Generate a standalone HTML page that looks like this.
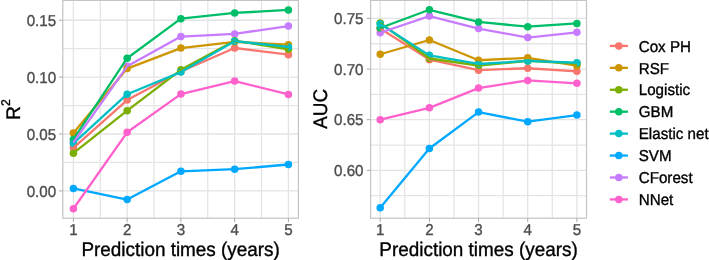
<!DOCTYPE html>
<html><head><meta charset="utf-8"><style>
html,body{margin:0;padding:0;background:#fff;}
svg{display:block;will-change:transform;text-rendering:geometricPrecision;font-family:"Liberation Sans", sans-serif;}
</style></head><body>
<svg width="709" height="260" viewBox="0 0 709 260">
<rect width="709" height="260" fill="#fff"/>
<line x1="100.28" y1="0.4" x2="100.28" y2="218.2" stroke="#E5E5E5" stroke-width="1.3"/>
<line x1="154.02" y1="0.4" x2="154.02" y2="218.2" stroke="#E5E5E5" stroke-width="1.3"/>
<line x1="207.77" y1="0.4" x2="207.77" y2="218.2" stroke="#E5E5E5" stroke-width="1.3"/>
<line x1="261.52" y1="0.4" x2="261.52" y2="218.2" stroke="#E5E5E5" stroke-width="1.3"/>
<line x1="62.8" y1="162.46" x2="298.4" y2="162.46" stroke="#E5E5E5" stroke-width="1.3"/>
<line x1="62.8" y1="105.57" x2="298.4" y2="105.57" stroke="#E5E5E5" stroke-width="1.3"/>
<line x1="62.8" y1="48.68" x2="298.4" y2="48.68" stroke="#E5E5E5" stroke-width="1.3"/>
<line x1="73.4" y1="0.4" x2="73.4" y2="218.2" stroke="#E3E3E3" stroke-width="1.3"/>
<line x1="127.15" y1="0.4" x2="127.15" y2="218.2" stroke="#E3E3E3" stroke-width="1.3"/>
<line x1="180.9" y1="0.4" x2="180.9" y2="218.2" stroke="#E3E3E3" stroke-width="1.3"/>
<line x1="234.65" y1="0.4" x2="234.65" y2="218.2" stroke="#E3E3E3" stroke-width="1.3"/>
<line x1="288.4" y1="0.4" x2="288.4" y2="218.2" stroke="#E3E3E3" stroke-width="1.3"/>
<line x1="62.8" y1="190.9" x2="298.4" y2="190.9" stroke="#E3E3E3" stroke-width="1.3"/>
<line x1="62.8" y1="134.01" x2="298.4" y2="134.01" stroke="#E3E3E3" stroke-width="1.3"/>
<line x1="62.8" y1="77.12" x2="298.4" y2="77.12" stroke="#E3E3E3" stroke-width="1.3"/>
<line x1="62.8" y1="20.23" x2="298.4" y2="20.23" stroke="#E3E3E3" stroke-width="1.3"/>
<circle cx="73.4" cy="142.54" r="3.75" fill="#C77CFF"/>
<circle cx="127.15" cy="66.31" r="3.75" fill="#C77CFF"/>
<circle cx="180.9" cy="36.61" r="3.75" fill="#C77CFF"/>
<circle cx="234.65" cy="33.88" r="3.75" fill="#C77CFF"/>
<circle cx="288.4" cy="26.03" r="3.75" fill="#C77CFF"/>
<circle cx="73.4" cy="147.78" r="3.75" fill="#F8766D"/>
<circle cx="127.15" cy="100.1" r="3.75" fill="#F8766D"/>
<circle cx="180.9" cy="71.43" r="3.75" fill="#F8766D"/>
<circle cx="234.65" cy="47.99" r="3.75" fill="#F8766D"/>
<circle cx="288.4" cy="54.71" r="3.75" fill="#F8766D"/>
<circle cx="73.4" cy="133.1" r="3.75" fill="#CD9600"/>
<circle cx="127.15" cy="68.59" r="3.75" fill="#CD9600"/>
<circle cx="180.9" cy="48.11" r="3.75" fill="#CD9600"/>
<circle cx="234.65" cy="41.85" r="3.75" fill="#CD9600"/>
<circle cx="288.4" cy="44.69" r="3.75" fill="#CD9600"/>
<circle cx="73.4" cy="153.13" r="3.75" fill="#7CAE00"/>
<circle cx="127.15" cy="110.69" r="3.75" fill="#7CAE00"/>
<circle cx="180.9" cy="69.84" r="3.75" fill="#7CAE00"/>
<circle cx="234.65" cy="40.71" r="3.75" fill="#7CAE00"/>
<circle cx="288.4" cy="49.24" r="3.75" fill="#7CAE00"/>
<circle cx="73.4" cy="139.47" r="3.75" fill="#00BE67"/>
<circle cx="127.15" cy="58.23" r="3.75" fill="#00BE67"/>
<circle cx="180.9" cy="18.64" r="3.75" fill="#00BE67"/>
<circle cx="234.65" cy="12.95" r="3.75" fill="#00BE67"/>
<circle cx="288.4" cy="9.88" r="3.75" fill="#00BE67"/>
<circle cx="73.4" cy="143.45" r="3.75" fill="#00BFC4"/>
<circle cx="127.15" cy="94.19" r="3.75" fill="#00BFC4"/>
<circle cx="180.9" cy="72.11" r="3.75" fill="#00BFC4"/>
<circle cx="234.65" cy="41.17" r="3.75" fill="#00BFC4"/>
<circle cx="288.4" cy="46.97" r="3.75" fill="#00BFC4"/>
<circle cx="73.4" cy="188.4" r="3.75" fill="#00A9FF"/>
<circle cx="127.15" cy="199.55" r="3.75" fill="#00A9FF"/>
<circle cx="180.9" cy="171.33" r="3.75" fill="#00A9FF"/>
<circle cx="234.65" cy="169.17" r="3.75" fill="#00A9FF"/>
<circle cx="288.4" cy="164.5" r="3.75" fill="#00A9FF"/>
<circle cx="73.4" cy="208.76" r="3.75" fill="#FF61CC"/>
<circle cx="127.15" cy="132.3" r="3.75" fill="#FF61CC"/>
<circle cx="180.9" cy="94.07" r="3.75" fill="#FF61CC"/>
<circle cx="234.65" cy="81.1" r="3.75" fill="#FF61CC"/>
<circle cx="288.4" cy="94.41" r="3.75" fill="#FF61CC"/>
<polyline points="73.4,147.78 127.15,100.1 180.9,71.43 234.65,47.99 288.4,54.71" fill="none" stroke="#F8766D" stroke-width="2.3" stroke-linejoin="round" stroke-linecap="butt"/>
<polyline points="73.4,133.1 127.15,68.59 180.9,48.11 234.65,41.85 288.4,44.69" fill="none" stroke="#CD9600" stroke-width="2.3" stroke-linejoin="round" stroke-linecap="butt"/>
<polyline points="73.4,153.13 127.15,110.69 180.9,69.84 234.65,40.71 288.4,49.24" fill="none" stroke="#7CAE00" stroke-width="2.3" stroke-linejoin="round" stroke-linecap="butt"/>
<polyline points="73.4,139.47 127.15,58.23 180.9,18.64 234.65,12.95 288.4,9.88" fill="none" stroke="#00BE67" stroke-width="2.3" stroke-linejoin="round" stroke-linecap="butt"/>
<polyline points="73.4,143.45 127.15,94.19 180.9,72.11 234.65,41.17 288.4,46.97" fill="none" stroke="#00BFC4" stroke-width="2.3" stroke-linejoin="round" stroke-linecap="butt"/>
<polyline points="73.4,188.4 127.15,199.55 180.9,171.33 234.65,169.17 288.4,164.5" fill="none" stroke="#00A9FF" stroke-width="2.3" stroke-linejoin="round" stroke-linecap="butt"/>
<polyline points="73.4,142.54 127.15,66.31 180.9,36.61 234.65,33.88 288.4,26.03" fill="none" stroke="#C77CFF" stroke-width="2.3" stroke-linejoin="round" stroke-linecap="butt"/>
<polyline points="73.4,208.76 127.15,132.3 180.9,94.07 234.65,81.1 288.4,94.41" fill="none" stroke="#FF61CC" stroke-width="2.3" stroke-linejoin="round" stroke-linecap="butt"/>
<rect x="62.8" y="0.4" width="235.6" height="217.8" fill="none" stroke="#C4C4C4" stroke-width="1.2"/>
<line x1="59" y1="190.9" x2="62.8" y2="190.9" stroke="#A8A8A8" stroke-width="1.0"/>
<line x1="59" y1="134.01" x2="62.8" y2="134.01" stroke="#A8A8A8" stroke-width="1.0"/>
<line x1="59" y1="77.12" x2="62.8" y2="77.12" stroke="#A8A8A8" stroke-width="1.0"/>
<line x1="59" y1="20.23" x2="62.8" y2="20.23" stroke="#A8A8A8" stroke-width="1.0"/>
<line x1="73.4" y1="218.2" x2="73.4" y2="222" stroke="#A8A8A8" stroke-width="1.0"/>
<line x1="127.15" y1="218.2" x2="127.15" y2="222" stroke="#A8A8A8" stroke-width="1.0"/>
<line x1="180.9" y1="218.2" x2="180.9" y2="222" stroke="#A8A8A8" stroke-width="1.0"/>
<line x1="234.65" y1="218.2" x2="234.65" y2="222" stroke="#A8A8A8" stroke-width="1.0"/>
<line x1="288.4" y1="218.2" x2="288.4" y2="222" stroke="#A8A8A8" stroke-width="1.0"/>
<text transform="translate(56.1,196.5) scale(1,1.04)" text-anchor="end" font-size="15.15" fill="#4D4D4D" stroke="#4D4D4D" stroke-width="0.35">0.00</text>
<text transform="translate(56.1,139.61) scale(1,1.04)" text-anchor="end" font-size="15.15" fill="#4D4D4D" stroke="#4D4D4D" stroke-width="0.35">0.05</text>
<text transform="translate(56.1,82.72) scale(1,1.04)" text-anchor="end" font-size="15.15" fill="#4D4D4D" stroke="#4D4D4D" stroke-width="0.35">0.10</text>
<text transform="translate(56.1,25.83) scale(1,1.04)" text-anchor="end" font-size="15.15" fill="#4D4D4D" stroke="#4D4D4D" stroke-width="0.35">0.15</text>
<text transform="translate(73.4,235.45) scale(1,1.04)" text-anchor="middle" font-size="15.15" fill="#4D4D4D" stroke="#4D4D4D" stroke-width="0.35">1</text>
<text transform="translate(127.15,235.45) scale(1,1.04)" text-anchor="middle" font-size="15.15" fill="#4D4D4D" stroke="#4D4D4D" stroke-width="0.35">2</text>
<text transform="translate(180.9,235.45) scale(1,1.04)" text-anchor="middle" font-size="15.15" fill="#4D4D4D" stroke="#4D4D4D" stroke-width="0.35">3</text>
<text transform="translate(234.65,235.45) scale(1,1.04)" text-anchor="middle" font-size="15.15" fill="#4D4D4D" stroke="#4D4D4D" stroke-width="0.35">4</text>
<text transform="translate(288.4,235.45) scale(1,1.04)" text-anchor="middle" font-size="15.15" fill="#4D4D4D" stroke="#4D4D4D" stroke-width="0.35">5</text>
<text transform="translate(180.6,255.6) scale(1,1.04)" text-anchor="middle" font-size="18.9" fill="#000" stroke="#000" stroke-width="0.35">Prediction times (years)</text>
<line x1="404.79" y1="0.4" x2="404.79" y2="218.2" stroke="#E5E5E5" stroke-width="1.3"/>
<line x1="453.96" y1="0.4" x2="453.96" y2="218.2" stroke="#E5E5E5" stroke-width="1.3"/>
<line x1="503.14" y1="0.4" x2="503.14" y2="218.2" stroke="#E5E5E5" stroke-width="1.3"/>
<line x1="552.31" y1="0.4" x2="552.31" y2="218.2" stroke="#E5E5E5" stroke-width="1.3"/>
<line x1="370.6" y1="195.68" x2="586.5" y2="195.68" stroke="#E5E5E5" stroke-width="1.3"/>
<line x1="370.6" y1="145.03" x2="586.5" y2="145.03" stroke="#E5E5E5" stroke-width="1.3"/>
<line x1="370.6" y1="94.37" x2="586.5" y2="94.37" stroke="#E5E5E5" stroke-width="1.3"/>
<line x1="370.6" y1="43.73" x2="586.5" y2="43.73" stroke="#E5E5E5" stroke-width="1.3"/>
<line x1="380.2" y1="0.4" x2="380.2" y2="218.2" stroke="#E3E3E3" stroke-width="1.3"/>
<line x1="429.38" y1="0.4" x2="429.38" y2="218.2" stroke="#E3E3E3" stroke-width="1.3"/>
<line x1="478.55" y1="0.4" x2="478.55" y2="218.2" stroke="#E3E3E3" stroke-width="1.3"/>
<line x1="527.72" y1="0.4" x2="527.72" y2="218.2" stroke="#E3E3E3" stroke-width="1.3"/>
<line x1="576.9" y1="0.4" x2="576.9" y2="218.2" stroke="#E3E3E3" stroke-width="1.3"/>
<line x1="370.6" y1="170.35" x2="586.5" y2="170.35" stroke="#E3E3E3" stroke-width="1.3"/>
<line x1="370.6" y1="119.7" x2="586.5" y2="119.7" stroke="#E3E3E3" stroke-width="1.3"/>
<line x1="370.6" y1="69.05" x2="586.5" y2="69.05" stroke="#E3E3E3" stroke-width="1.3"/>
<line x1="370.6" y1="18.4" x2="586.5" y2="18.4" stroke="#E3E3E3" stroke-width="1.3"/>
<circle cx="380.2" cy="32.78" r="3.75" fill="#C77CFF"/>
<circle cx="429.38" cy="16.07" r="3.75" fill="#C77CFF"/>
<circle cx="478.55" cy="28.53" r="3.75" fill="#C77CFF"/>
<circle cx="527.72" cy="37.55" r="3.75" fill="#C77CFF"/>
<circle cx="576.9" cy="32.28" r="3.75" fill="#C77CFF"/>
<circle cx="380.2" cy="28.53" r="3.75" fill="#F8766D"/>
<circle cx="429.38" cy="59.63" r="3.75" fill="#F8766D"/>
<circle cx="478.55" cy="70.16" r="3.75" fill="#F8766D"/>
<circle cx="527.72" cy="68.24" r="3.75" fill="#F8766D"/>
<circle cx="576.9" cy="71.28" r="3.75" fill="#F8766D"/>
<circle cx="380.2" cy="54.26" r="3.75" fill="#CD9600"/>
<circle cx="429.38" cy="39.98" r="3.75" fill="#CD9600"/>
<circle cx="478.55" cy="60.24" r="3.75" fill="#CD9600"/>
<circle cx="527.72" cy="57.81" r="3.75" fill="#CD9600"/>
<circle cx="576.9" cy="65.71" r="3.75" fill="#CD9600"/>
<circle cx="380.2" cy="22.96" r="3.75" fill="#7CAE00"/>
<circle cx="429.38" cy="58.51" r="3.75" fill="#7CAE00"/>
<circle cx="478.55" cy="65.5" r="3.75" fill="#7CAE00"/>
<circle cx="527.72" cy="60.95" r="3.75" fill="#7CAE00"/>
<circle cx="576.9" cy="63.48" r="3.75" fill="#7CAE00"/>
<circle cx="380.2" cy="28.02" r="3.75" fill="#00BE67"/>
<circle cx="429.38" cy="9.79" r="3.75" fill="#00BE67"/>
<circle cx="478.55" cy="21.95" r="3.75" fill="#00BE67"/>
<circle cx="527.72" cy="26.71" r="3.75" fill="#00BE67"/>
<circle cx="576.9" cy="23.47" r="3.75" fill="#00BE67"/>
<circle cx="380.2" cy="24.07" r="3.75" fill="#00BFC4"/>
<circle cx="429.38" cy="55.37" r="3.75" fill="#00BFC4"/>
<circle cx="478.55" cy="63.99" r="3.75" fill="#00BFC4"/>
<circle cx="527.72" cy="60.95" r="3.75" fill="#00BFC4"/>
<circle cx="576.9" cy="62.77" r="3.75" fill="#00BFC4"/>
<circle cx="380.2" cy="207.83" r="3.75" fill="#00A9FF"/>
<circle cx="429.38" cy="148.47" r="3.75" fill="#00A9FF"/>
<circle cx="478.55" cy="112.1" r="3.75" fill="#00A9FF"/>
<circle cx="527.72" cy="121.73" r="3.75" fill="#00A9FF"/>
<circle cx="576.9" cy="115.04" r="3.75" fill="#00A9FF"/>
<circle cx="380.2" cy="119.7" r="3.75" fill="#FF61CC"/>
<circle cx="429.38" cy="107.85" r="3.75" fill="#FF61CC"/>
<circle cx="478.55" cy="88.09" r="3.75" fill="#FF61CC"/>
<circle cx="527.72" cy="80.4" r="3.75" fill="#FF61CC"/>
<circle cx="576.9" cy="83.33" r="3.75" fill="#FF61CC"/>
<polyline points="380.2,28.53 429.38,59.63 478.55,70.16 527.72,68.24 576.9,71.28" fill="none" stroke="#F8766D" stroke-width="2.3" stroke-linejoin="round" stroke-linecap="butt"/>
<polyline points="380.2,54.26 429.38,39.98 478.55,60.24 527.72,57.81 576.9,65.71" fill="none" stroke="#CD9600" stroke-width="2.3" stroke-linejoin="round" stroke-linecap="butt"/>
<polyline points="380.2,22.96 429.38,58.51 478.55,65.5 527.72,60.95 576.9,63.48" fill="none" stroke="#7CAE00" stroke-width="2.3" stroke-linejoin="round" stroke-linecap="butt"/>
<polyline points="380.2,28.02 429.38,9.79 478.55,21.95 527.72,26.71 576.9,23.47" fill="none" stroke="#00BE67" stroke-width="2.3" stroke-linejoin="round" stroke-linecap="butt"/>
<polyline points="380.2,24.07 429.38,55.37 478.55,63.99 527.72,60.95 576.9,62.77" fill="none" stroke="#00BFC4" stroke-width="2.3" stroke-linejoin="round" stroke-linecap="butt"/>
<polyline points="380.2,207.83 429.38,148.47 478.55,112.1 527.72,121.73 576.9,115.04" fill="none" stroke="#00A9FF" stroke-width="2.3" stroke-linejoin="round" stroke-linecap="butt"/>
<polyline points="380.2,32.78 429.38,16.07 478.55,28.53 527.72,37.55 576.9,32.28" fill="none" stroke="#C77CFF" stroke-width="2.3" stroke-linejoin="round" stroke-linecap="butt"/>
<polyline points="380.2,119.7 429.38,107.85 478.55,88.09 527.72,80.4 576.9,83.33" fill="none" stroke="#FF61CC" stroke-width="2.3" stroke-linejoin="round" stroke-linecap="butt"/>
<rect x="370.6" y="0.4" width="215.9" height="217.8" fill="none" stroke="#C4C4C4" stroke-width="1.2"/>
<line x1="366.8" y1="170.35" x2="370.6" y2="170.35" stroke="#A8A8A8" stroke-width="1.0"/>
<line x1="366.8" y1="119.7" x2="370.6" y2="119.7" stroke="#A8A8A8" stroke-width="1.0"/>
<line x1="366.8" y1="69.05" x2="370.6" y2="69.05" stroke="#A8A8A8" stroke-width="1.0"/>
<line x1="366.8" y1="18.4" x2="370.6" y2="18.4" stroke="#A8A8A8" stroke-width="1.0"/>
<line x1="380.2" y1="218.2" x2="380.2" y2="222" stroke="#A8A8A8" stroke-width="1.0"/>
<line x1="429.38" y1="218.2" x2="429.38" y2="222" stroke="#A8A8A8" stroke-width="1.0"/>
<line x1="478.55" y1="218.2" x2="478.55" y2="222" stroke="#A8A8A8" stroke-width="1.0"/>
<line x1="527.72" y1="218.2" x2="527.72" y2="222" stroke="#A8A8A8" stroke-width="1.0"/>
<line x1="576.9" y1="218.2" x2="576.9" y2="222" stroke="#A8A8A8" stroke-width="1.0"/>
<text transform="translate(363.5,175.95) scale(1,1.04)" text-anchor="end" font-size="15.15" fill="#4D4D4D" stroke="#4D4D4D" stroke-width="0.35">0.60</text>
<text transform="translate(363.5,125.3) scale(1,1.04)" text-anchor="end" font-size="15.15" fill="#4D4D4D" stroke="#4D4D4D" stroke-width="0.35">0.65</text>
<text transform="translate(363.5,74.65) scale(1,1.04)" text-anchor="end" font-size="15.15" fill="#4D4D4D" stroke="#4D4D4D" stroke-width="0.35">0.70</text>
<text transform="translate(363.5,24) scale(1,1.04)" text-anchor="end" font-size="15.15" fill="#4D4D4D" stroke="#4D4D4D" stroke-width="0.35">0.75</text>
<text transform="translate(380.2,235.45) scale(1,1.04)" text-anchor="middle" font-size="15.15" fill="#4D4D4D" stroke="#4D4D4D" stroke-width="0.35">1</text>
<text transform="translate(429.38,235.45) scale(1,1.04)" text-anchor="middle" font-size="15.15" fill="#4D4D4D" stroke="#4D4D4D" stroke-width="0.35">2</text>
<text transform="translate(478.55,235.45) scale(1,1.04)" text-anchor="middle" font-size="15.15" fill="#4D4D4D" stroke="#4D4D4D" stroke-width="0.35">3</text>
<text transform="translate(527.72,235.45) scale(1,1.04)" text-anchor="middle" font-size="15.15" fill="#4D4D4D" stroke="#4D4D4D" stroke-width="0.35">4</text>
<text transform="translate(576.9,235.45) scale(1,1.04)" text-anchor="middle" font-size="15.15" fill="#4D4D4D" stroke="#4D4D4D" stroke-width="0.35">5</text>
<text transform="translate(478.55,255.6) scale(1,1.04)" text-anchor="middle" font-size="18.9" fill="#000" stroke="#000" stroke-width="0.35">Prediction times (years)</text>
<g transform="translate(19.7,119.65) rotate(-90) scale(1,1.04)"><text x="0" y="0" font-size="18.9" fill="#000" stroke="#000" stroke-width="0.35">R</text><text x="13.65" y="-9.7" font-size="12.2" fill="#000" stroke="#000" stroke-width="0.35">2</text></g>
<text transform="translate(327.1,108.8) rotate(-90) scale(1,1.04)" text-anchor="middle" font-size="18.9" fill="#000" stroke="#000" stroke-width="0.35">AUC</text>
<line x1="609.8" y1="45.9" x2="627.9" y2="45.9" stroke="#F8766D" stroke-width="2.3"/>
<circle cx="618.8" cy="45.9" r="3.75" fill="#F8766D"/>
<text transform="translate(638.76,51.6) scale(1,1.04)" font-size="15.15" fill="#000" stroke="#000" stroke-width="0.35">Cox PH</text>
<line x1="609.8" y1="67.83" x2="627.9" y2="67.83" stroke="#CD9600" stroke-width="2.3"/>
<circle cx="618.8" cy="67.83" r="3.75" fill="#CD9600"/>
<text transform="translate(638.76,73.53) scale(1,1.04)" font-size="15.15" fill="#000" stroke="#000" stroke-width="0.35">RSF</text>
<line x1="609.8" y1="89.76" x2="627.9" y2="89.76" stroke="#7CAE00" stroke-width="2.3"/>
<circle cx="618.8" cy="89.76" r="3.75" fill="#7CAE00"/>
<text transform="translate(638.76,95.46) scale(1,1.04)" font-size="15.15" fill="#000" stroke="#000" stroke-width="0.35">Logistic</text>
<line x1="609.8" y1="111.69" x2="627.9" y2="111.69" stroke="#00BE67" stroke-width="2.3"/>
<circle cx="618.8" cy="111.69" r="3.75" fill="#00BE67"/>
<text transform="translate(638.76,117.39) scale(1,1.04)" font-size="15.15" fill="#000" stroke="#000" stroke-width="0.35">GBM</text>
<line x1="609.8" y1="133.62" x2="627.9" y2="133.62" stroke="#00BFC4" stroke-width="2.3"/>
<circle cx="618.8" cy="133.62" r="3.75" fill="#00BFC4"/>
<text transform="translate(638.76,139.32) scale(1,1.04)" font-size="15.15" fill="#000" stroke="#000" stroke-width="0.35">Elastic net</text>
<line x1="609.8" y1="155.55" x2="627.9" y2="155.55" stroke="#00A9FF" stroke-width="2.3"/>
<circle cx="618.8" cy="155.55" r="3.75" fill="#00A9FF"/>
<text transform="translate(638.76,161.25) scale(1,1.04)" font-size="15.15" fill="#000" stroke="#000" stroke-width="0.35">SVM</text>
<line x1="609.8" y1="177.48" x2="627.9" y2="177.48" stroke="#C77CFF" stroke-width="2.3"/>
<circle cx="618.8" cy="177.48" r="3.75" fill="#C77CFF"/>
<text transform="translate(638.76,183.18) scale(1,1.04)" font-size="15.15" fill="#000" stroke="#000" stroke-width="0.35">CForest</text>
<line x1="609.8" y1="199.41" x2="627.9" y2="199.41" stroke="#FF61CC" stroke-width="2.3"/>
<circle cx="618.8" cy="199.41" r="3.75" fill="#FF61CC"/>
<text transform="translate(638.76,205.11) scale(1,1.04)" font-size="15.15" fill="#000" stroke="#000" stroke-width="0.35">NNet</text>
</svg>
</body></html>
